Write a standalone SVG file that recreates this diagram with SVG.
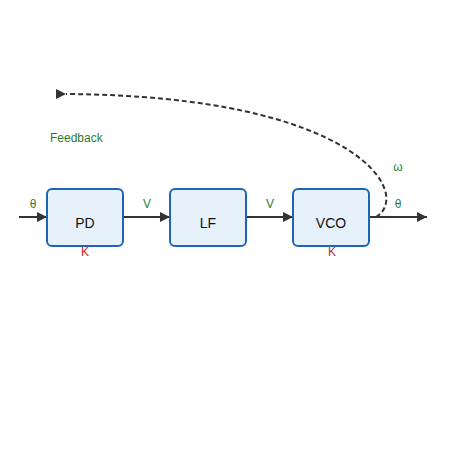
<svg xmlns="http://www.w3.org/2000/svg" width="474" height="474" viewBox="0 0 474 474">
<defs>
<marker id="arr" viewBox="0 0 10 10" refX="10" refY="5" markerWidth="10" markerHeight="10" markerUnits="userSpaceOnUse" orient="auto"><path d="M0,0 L10,5 L0,10 Z" fill="#333"/></marker>
<marker id="arrs" viewBox="0 0 10 10" refX="10" refY="5" markerWidth="10" markerHeight="10" markerUnits="userSpaceOnUse" orient="0"><path d="M0,0 L10,5 L0,10 Z" fill="#333"/></marker>
</defs>
<style>
.box{fill:#e6f1fc;stroke:#1f65b7;stroke-width:2}
.bt{font-family:"Liberation Sans",Arial,sans-serif;font-size:14px;fill:#111;text-anchor:middle}
.lb{font-family:"Liberation Sans",Arial,sans-serif;font-size:12px;fill:#2e7d32;text-anchor:middle}
.k{font-family:"Liberation Sans",Arial,sans-serif;font-size:12px;fill:#c62828;text-anchor:middle}
.ln{stroke:#333;stroke-width:2;fill:none}
</style>
<rect width="474" height="474" fill="#fff"/>
<g id="connectors">
<line class="ln" x1="19" y1="217" x2="47" y2="217" marker-end="url(#arr)"/>
<line class="ln" x1="123" y1="217" x2="170" y2="217" marker-end="url(#arr)"/>
<line class="ln" x1="246" y1="217" x2="293" y2="217" marker-end="url(#arr)"/>
<line class="ln" x1="369" y1="217" x2="427" y2="217" marker-end="url(#arr)"/>
<path class="ln" d="M376 217 C413 195 360 96 66 94" stroke-dasharray="5,3" marker-end="url(#arrs)"/>
<text class="lb" x="33" y="208">θ</text>
<text class="lb" x="147" y="208">V</text>
<text class="lb" x="270" y="208">V</text>
<text class="lb" x="398" y="208">θ</text>
<text class="lb" x="398" y="171">ω</text>
<text class="lb" x="50" y="142" style="text-anchor:start">Feedback</text>
</g>
<g id="PD"><rect class="box" x="47" y="189" width="76" height="57" rx="5"/><text class="bt" x="85" y="228">PD</text><text class="k" x="85" y="256">K</text></g>
<g id="LF"><rect class="box" x="170" y="189" width="76" height="57" rx="5"/><text class="bt" x="208" y="228">LF</text></g>
<g id="VCO"><rect class="box" x="293" y="189" width="76" height="57" rx="5"/><text class="bt" x="331" y="228">VCO</text><text class="k" x="332" y="256">K</text></g>
</svg>
